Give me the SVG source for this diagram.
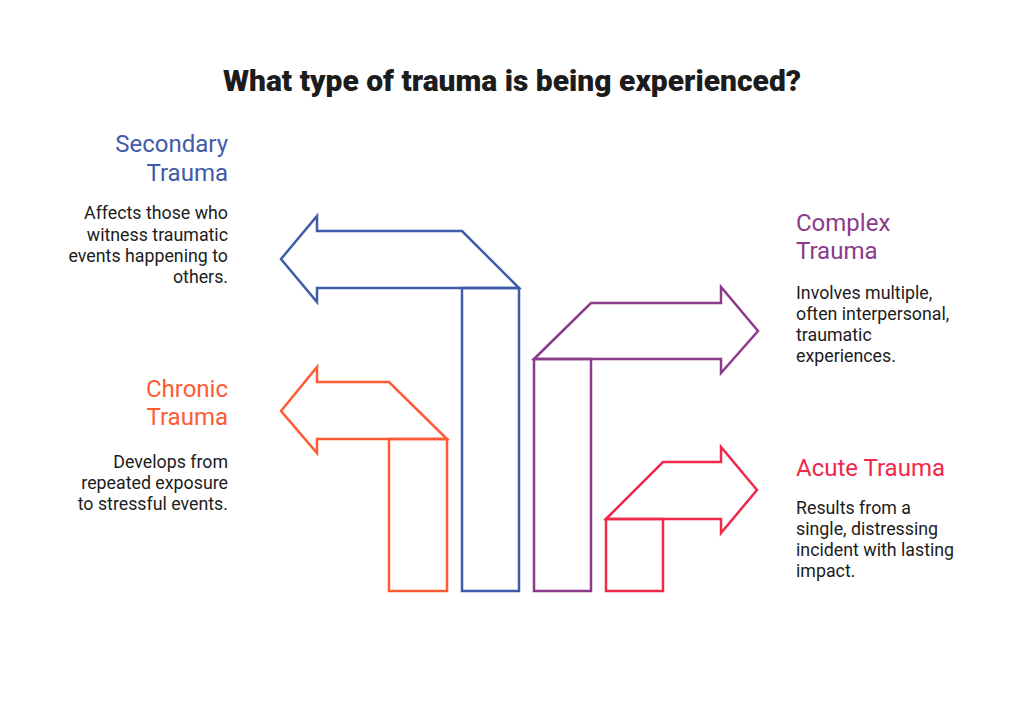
<svg xmlns="http://www.w3.org/2000/svg" width="1024" height="721" viewBox="0 0 1024 721">
<style>
.shape{fill:none;stroke-width:2.5;stroke-linejoin:miter}
.blue{stroke:#3F5BA9}.orange{stroke:#FF5A33}.purple{stroke:#8C3A8A}.red{stroke:#F0284A}
.title{font-family:Roboto,"Liberation Sans",sans-serif;font-weight:900;font-size:30px;fill:#1C1C1C}
.head{font-family:Roboto,"Liberation Sans",sans-serif;font-size:24px}
.desc{font-family:Roboto,"Liberation Sans",sans-serif;font-size:17.8px;fill:#1C1C1C}
.r{text-anchor:end}
</style>
<rect width="1024" height="721" fill="#FFFFFF"/>
<text class="title" x="512" y="91" text-anchor="middle">What type of trauma is being experienced?</text>
<g id="connectors">
<g id="arrow-secondary" class="shape blue">
<polygon points="281,259 317,216 317,231 462,231 519,288 317,288 317,302"/>
<rect x="462" y="288" width="57" height="303"/>
</g>
<g id="arrow-chronic" class="shape orange">
<polygon points="281,411 317,367 317,382 389,382 447,439 317,439 317,453"/>
<rect x="389" y="439" width="58" height="152"/>
</g>
<g id="arrow-complex" class="shape purple">
<polygon points="534,359 591,303 721,303 721,287 758,331 721,373 721,359"/>
<rect x="534" y="359" width="57" height="232"/>
</g>
<g id="arrow-acute" class="shape red">
<polygon points="606,519 663,462 721,462 721,447 757,490 721,533 721,519"/>
<rect x="606" y="519" width="57" height="72"/>
</g>
</g>
<g id="node-secondary">
<text class="head r" fill="#3F5BA9"><tspan x="228" y="152">Secondary</tspan><tspan x="228" y="181">Trauma</tspan></text>
<text class="desc r"><tspan x="228" y="219">Affects those who</tspan><tspan x="228" y="241">witness traumatic</tspan><tspan x="228" y="262">events happening to</tspan><tspan x="228" y="283">others.</tspan></text>
</g>
<g id="node-chronic">
<text class="head r" fill="#FF5A33"><tspan x="228" y="397">Chronic</tspan><tspan x="228" y="425">Trauma</tspan></text>
<text class="desc r"><tspan x="228" y="468">Develops from</tspan><tspan x="228" y="489">repeated exposure</tspan><tspan x="228" y="510">to stressful events.</tspan></text>
</g>
<g id="node-complex">
<text class="head" fill="#8C3A8A"><tspan x="796" y="231">Complex</tspan><tspan x="796" y="259">Trauma</tspan></text>
<text class="desc"><tspan x="796" y="299">Involves multiple,</tspan><tspan x="796" y="320">often interpersonal,</tspan><tspan x="796" y="341">traumatic</tspan><tspan x="796" y="362">experiences.</tspan></text>
</g>
<g id="node-acute">
<text class="head" fill="#F0284A"><tspan x="796" y="476">Acute Trauma</tspan></text>
<text class="desc"><tspan x="796" y="514">Results from a</tspan><tspan x="796" y="535">single, distressing</tspan><tspan x="796" y="556">incident with lasting</tspan><tspan x="796" y="577">impact.</tspan></text>
</g>
</svg>
